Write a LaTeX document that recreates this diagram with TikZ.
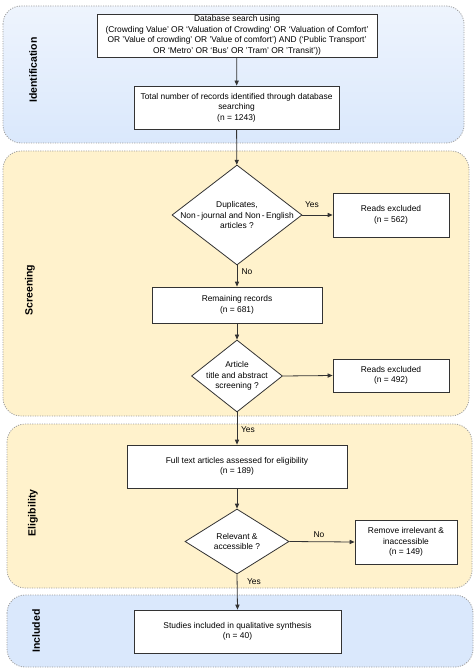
\documentclass[tikz,border=0pt]{standalone}
\usepackage{fontspec}
\setmainfont{Liberation Sans}
\usetikzlibrary{shapes.geometric,arrows.meta}
\definecolor{bluefill}{HTML}{DAE8FC}
\definecolor{bluetop}{HTML}{EEF4FD}
\definecolor{yellowfill}{HTML}{FFF2CC}
\definecolor{panelline}{HTML}{9C9C9C}
\definecolor{ink}{HTML}{333333}
\tikzset{
  panel/.style={draw=panelline, line width=0.8pt, dash pattern=on 1.1pt off 1.3pt, rounded corners=18pt},
  box/.style={draw=ink, fill=white, line width=0.8pt, align=center, inner sep=0pt,
     font=\fontsize{8.4}{10.6}\selectfont},
  dia/.style={draw=ink, fill=white, line width=0.8pt, diamond, inner sep=0pt},
  dtext/.style={align=center, font=\fontsize{8.4}{10.6}\selectfont, inner sep=0pt},
  lbl/.style={font=\fontsize{8.4}{9}\selectfont, inner sep=0pt},
  phase/.style={font=\bfseries\fontsize{10.5}{12}\selectfont, rotate=90, inner sep=0pt},
  arr/.style={draw=ink, line width=0.8pt, -{Triangle[length=5pt,width=4.2pt]}},
}
\begin{document}
\begin{tikzpicture}[x=1pt,y=-1pt]
\useasboundingbox (0,0) rectangle (474,668);
% panels
\path[panel, top color=bluetop, bottom color=bluefill] (3,6) rectangle (464,143);
\path[panel, fill=yellowfill] (3,151) rectangle (469,416);
\path[panel, fill=yellowfill] (7,424) rectangle (472,588);
\path[panel, fill=bluefill] (7,595) rectangle (473,667);
% phase labels
\node[phase] (pid) at (33,70) {Identification};
\node[phase] (psc) at (30,290) {Screening};
\node[phase] (pel) at (33,513) {Eligibility};
\node[phase] (pin) at (36,631) {Included};
% boxes
\node[box, minimum width=280pt, minimum height=43pt] (db) at (237,35.5)
  {Database search using\\(Crowding Value’ OR ‘Valuation of Crowding’ OR ‘Valuation of Comfort’\\OR 'Value of crowding’ OR 'Value of comfort’) AND (‘Public Transport’\\OR ‘Metro’ OR ‘Bus’ OR 'Tram’ OR 'Transit’))};
\node[box, minimum width=205pt, minimum height=43pt] (tot) at (236.5,107.5)
  {Total number of records identified through database\\searching\\(n = 1243)};
\node[dia, minimum width=130pt, minimum height=100pt] (d1) at (237,215) {};
\node[dtext] (d1t) at (d1.center) {Duplicates,\\Non\,-\,journal and Non\,-\,English\\articles ?};
\node[box, minimum width=116pt, minimum height=44pt] (r1) at (391,215) {Reads excluded\\(n = 562)};
\node[box, minimum width=170pt, minimum height=36pt] (rem) at (237,305) {Remaining records\\(n = 681)};
\node[dia, minimum width=91pt, minimum height=72pt] (d2) at (237,376) {};
\node[dtext] (d2t) at (d2.center) {Article\\title and abstract\\screening ?};
\node[box, minimum width=116pt, minimum height=33pt] (r2) at (391,375.5) {Reads excluded\\(n = 492)};
\node[box, minimum width=220pt, minimum height=43pt] (full) at (237,466.5) {Full text articles assessed for eligibility\\(n = 189)};
\node[dia, minimum width=104pt, minimum height=65pt] (d3) at (237,541.5) {};
\node[dtext] (d3t) at (d3.center) {Relevant \&\\accessible ?};
\node[box, minimum width=102pt, minimum height=44pt] (rm) at (406,542) {Remove irrelevant \&\\inaccessible\\(n = 149)};
\node[box, minimum width=207pt, minimum height=43pt] (st) at (237.5,631.5) {Studies included in qualitative synthesis\\(n = 40)};
% connectors
\draw[arr] (db) -- (tot);
\draw[arr] (tot) -- (d1);
\draw[arr] (d1.east) -- (r1.west);
\draw[arr] (d1.south) -- (rem.north);
\draw[arr] (rem) -- (d2);
\draw[arr] (d2.east) -- (r2.west);
\draw[arr] (d2.south) -- (full.north);
\draw[arr] (full) -- (d3);
\draw[arr] (d3.east) -- (rm.west);
\draw[arr] (d3.south) -- (st.north);
% edge labels
\node[lbl] (y1) at (312,205) {Yes};
\node[lbl] (n1) at (247,272) {No};
\node[lbl] (y2) at (248,430) {Yes};
\node[lbl] (n3) at (319,535) {No};
\node[lbl] (y3) at (254,582) {Yes};
\end{tikzpicture}
\end{document}
